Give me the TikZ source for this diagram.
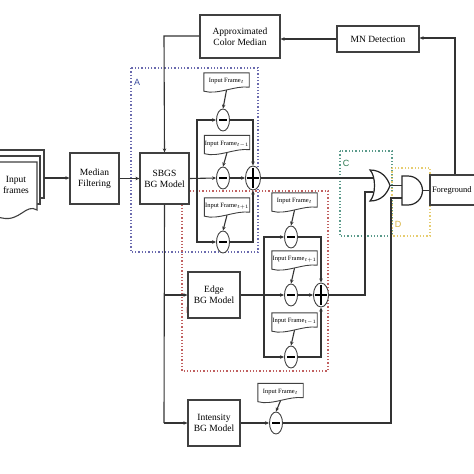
\documentclass[tikz,border=0pt]{standalone}
\usepackage{fontspec}
\setmainfont{Liberation Serif}
\setsansfont{Liberation Sans}
\usetikzlibrary{shapes.geometric,arrows.meta,calc}
\definecolor{lineg}{HTML}{333333}
\definecolor{grpA}{HTML}{6A6AAE}
\definecolor{grpB}{HTML}{C06060}
\definecolor{grpC}{HTML}{5A9A8A}
\definecolor{grpD}{HTML}{E6CC70}
\definecolor{lblA}{HTML}{3B4CA0}
\definecolor{lblB}{HTML}{C03030}
\definecolor{lblC}{HTML}{2E7A50}
\definecolor{lblD}{HTML}{D8B440}
\tikzset{
 ln/.style={draw=lineg, line width=1.1pt},
 arr/.style={ln, -{Stealth[length=4pt,width=3.5pt]}},
 blk/.style={draw=black!75, line width=1.2pt, fill=white, align=center, inner sep=1pt,
   font=\fontsize{9.5}{11}\selectfont},
 docbox/.style={inner sep=0pt, minimum width=45pt, minimum height=17pt,
   font=\fontsize{6.5}{7.5}\selectfont},
 docline/.style={draw=black!75, line width=0.9pt},
 op/.style={ellipse, draw=black!75, line width=0.9pt, fill=white, minimum width=13pt,
   minimum height=22pt, inner sep=0pt},
 grp/.style={dotted, line width=1.3pt},
 lbl/.style={font=\sffamily\fontsize{9}{10}\selectfont},
 gate/.style={draw=black!85, line width=1.2pt, fill=white},
}
\newcommand\docnode[3]{%
 \node[docbox] (#1) at (#2) {#3};
 \draw[docline] (#1.north west) -- ([yshift=-1pt]#1.south west)
   .. controls ([xshift=14pt,yshift=-5pt]#1.south west) and ([xshift=-14pt,yshift=5pt]#1.south east)
   .. ([yshift=3pt]#1.south east) -- (#1.north east) -- cycle;}
\newcommand\minusop[2]{\node[op] (#1) at (#2) {\rule{8pt}{2.4pt}};}
\newcommand\plusop[2]{\node[op, minimum width=15pt, minimum height=24pt] (#1) at (#2) {};
 \draw[line width=2pt] ([xshift=1.5pt]#1.west) -- ([xshift=-1.5pt]#1.east)
   ([yshift=-2pt]#1.north) -- ([yshift=2pt]#1.south);}
\newcommand\orshape{\draw[gate] (orA) .. controls (381,170) and (387,177) .. (ortip)
  .. controls (387,194) and (381,201) .. (orB)
  .. controls (376,195) and (376,176) .. cycle;}
\newcommand\andshape{\draw[gate] (402,176) -- (408,176) arc[start angle=-90, end angle=90, radius=14.5] -- (402,205) -- cycle;}
\begin{document}
\begin{tikzpicture}[x=1pt,y=-1pt]
\clip (0,0) rectangle (474,474);
\fill[white] (0,0) rectangle (474,474);

% group boxes
\draw[grp, grpA] (131,68) rectangle (258,252);
\draw[grp, grpB] (182,191) rectangle (328,371);
\draw[grp, grpC] (340,151) rectangle (392,236);
\draw[grp, grpD] (392,168) rectangle (430,236);
\node[lbl, text=lblA] (labA) at (137,82) {A};
\node[lbl, text=lblB] (labB) at (189,310) {B};
\node[lbl, text=lblC] (labC) at (346,163) {C};
\node[lbl, text=lblD] (labD) at (398,224) {D};

% input frames (stacked documents)
\draw[docline, line width=1.1pt, fill=white] (-6,150) -- (44,150) -- (44,198) -- (-6,198) -- cycle;
\draw[docline, line width=1.1pt, fill=white] (-6,156) -- (40,156) -- (40,204) -- (-6,204) -- cycle;
\draw[docline, line width=1.1pt, fill=white] (-8,162) -- (37,162) -- (37,210)
  .. controls (26,203) and (20,222) .. (2,218) -- (-8,216) -- cycle;
\node[align=center, font=\fontsize{9.5}{11.5}\selectfont, inner sep=0pt] (inframes) at (16,185) {Input\\frames};
\coordinate (inout) at (44,178);

% main blocks
\node[blk, minimum width=49pt, minimum height=51pt] (median) at (94.5,178.5) {Median\\Filtering};
\node[blk, minimum width=49pt, minimum height=51pt] (sbgs) at (164.5,178.5) {SBGS\\BG Model};
\node[blk, minimum width=80pt, minimum height=43pt] (approx) at (240,36.5) {Approximated\\Color Median};
\node[blk, minimum width=82pt, minimum height=26pt] (mn) at (378,39) {MN Detection};
\node[blk, minimum width=52pt, minimum height=46pt] (edge) at (214,295) {Edge\\BG Model};
\node[blk, minimum width=52pt, minimum height=46pt] (inten) at (214,423) {Intensity\\BG Model};
\node[blk, minimum width=80pt, minimum height=30pt, text width=76pt, align=left, font=\fontsize{8.5}{10}\selectfont] (fg) at (470,190) {Foreground};

% group A internals
\docnode{dA1}{226.5,81.5}{Input Frame$_t$}
\docnode{dA2}{227,144}{Input Frame$_{t-1}$}
\docnode{dA3}{227,206.5}{Input Frame$_{t+1}$}
\minusop{mA1}{223,120}
\minusop{mA2}{223,178}
\minusop{mA3}{223,242}
\plusop{pA}{253,178}

% group B internals
\docnode{dB1}{294.5,201.5}{Input Frame$_t$}
\docnode{dB2}{294.5,259.5}{Input Frame$_{t+1}$}
\docnode{dB3}{294.5,321.5}{Input Frame$_{t-1}$}
\minusop{mB1}{291,237}
\minusop{mB2}{291,295}
\minusop{mB3}{291,357}
\plusop{pB}{321,295}

% intensity internals
\docnode{dI}{280.5,392}{Input Frame$_t$}
\minusop{mI}{276,423}

% gates
\coordinate (orA) at (370,170);
\coordinate (orB) at (370,201);
\coordinate (ortip) at (390,185.5);
\coordinate (or1) at (373,178);
\coordinate (or2) at (373,192);
\coordinate (and1) at (402,185.5);
\coordinate (and2) at (402,198);
\coordinate (andout) at (422.5,190.5);

% main flow
\draw[arr] (inout) -- (median.west |- inout);
\draw[arr] (median.east) -- (sbgs.west);
\draw[arr] (approx.west |- 0,36) -- (164,36) -- (sbgs.north);
\draw[arr] (mn.west) -- (approx.east |- mn.west);
\draw[arr] (fg.north -| 455,0) -- (455,38) -- (mn.east |- 0,38);
\draw[ln] (sbgs.south) -- (164,423);
\draw[arr] (164,423) -- (inten.west);
\draw[arr] (164,295) -- (edge.west);

% group A connections
\draw[arr] (sbgs.east) -- (mA2.west);
\draw[arr] (197,178) |- (mA1.west);
\draw[arr] (197,178) |- (mA3.west);
\draw[arr] (mA1.east) -| (pA.north);
\draw[arr] (mA3.east) -| (pA.south);
\draw[arr] (mA2.east) -- (pA.west);
\draw[arr] (dA1.south) -- (mA1.north);
\draw[arr] (dA2.south) -- (mA2.north);
\draw[arr] (dA3.south) -- (mA3.north);
\draw[ln] (pA.east) -- (or1);

% group B connections
\draw[arr] (edge.east) -- (mB2.west);
\draw[arr] (264,295) |- (mB1.west);
\draw[arr] (264,295) |- (mB3.west);
\draw[arr] (mB1.east) -| (pB.north);
\draw[arr] (mB3.east) -| (pB.south);
\draw[arr] (mB2.east) -- (pB.west);
\draw[arr] (dB1.south) -- (mB1.north);
\draw[arr] (dB2.south) -- (mB2.north);
\draw[arr] (dB3.south) -- (mB3.north);
\draw[ln] (pB.east) -- (365,295) -- (365,192) -- (or2);

% intensity connections
\draw[arr] (inten.east) -- (mI.west);
\draw[arr] (dI.south) -- (mI.north);
\draw[ln] (mI.east) -- (391,423) -- (391,198) -- (and2);

% gates connections
\draw[ln] (ortip) -- (and1);
\draw[ln] (andout) -- (fg.west |- andout);

% gates on top
\orshape
\andshape
\end{tikzpicture}
\end{document}
